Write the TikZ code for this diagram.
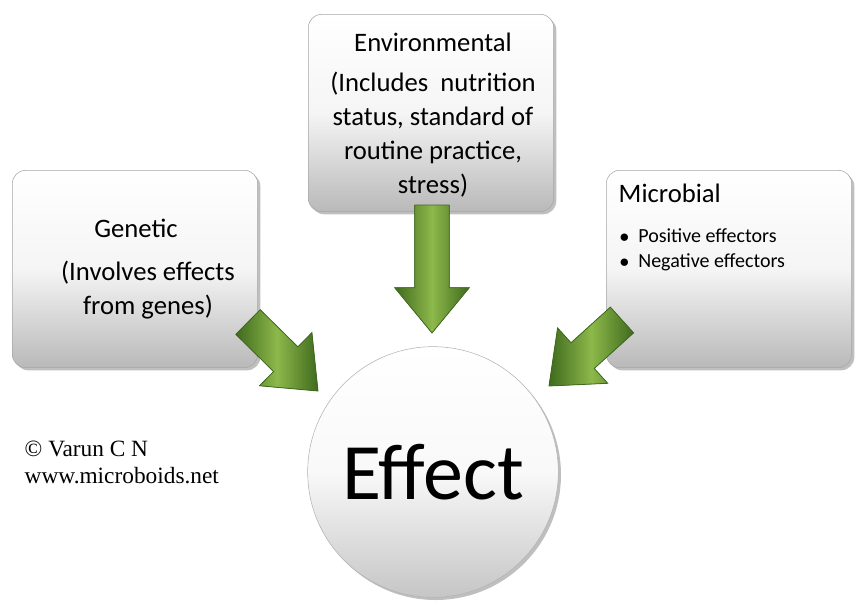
\documentclass[tikz,border=0pt]{standalone}
\usepackage{fontspec}
\setmainfont{Carlito}
\newfontfamily\serifx{Liberation Serif}
\usetikzlibrary{calc,shadows}
\definecolor{gd}{HTML}{3F6A1E}
\definecolor{gl}{HTML}{8DB84A}
\tikzset{
 bx/.style={draw=gray!70,rounded corners=10pt,top color=white,bottom color=gray!55,middle color=white!92!gray,minimum width=184pt,minimum height=148pt,drop shadow={opacity=0.5,shadow xshift=2pt,shadow yshift=-2pt}},
 txt/.style={font=\fontsize{20}{24}\selectfont,align=center},
 grn/.style={draw=gd,left color=gd,right color=gd,middle color=gl,line width=0.6pt}
}
\newcommand{\garrow}[2]{%
 \coordinate (H) at ($(#2)!34pt!(#1)$);
 \fill[grn] ($(#1)!13pt!90:(#2)$) -- ($(H)!13pt!-90:(#1)$) -- ($(H)!28pt!-90:(#1)$) -- (#2)
  -- ($(H)!28pt!90:(#1)$) -- ($(H)!13pt!90:(#1)$) -- ($(#1)!13pt!-90:(#2)$) -- cycle;}
\begin{document}
\begin{tikzpicture}[x=0.75pt,y=-0.75pt]
\useasboundingbox (0,0) rectangle (865,612);
\node[bx] (gen) at (135,269) {};
\node[bx] (env) at (431,113) {};
\node[bx] (mic) at (729,269) {};
\coordinate (ma) at (432,205); \coordinate (mb) at (432,333);
\garrow{ma}{mb}
\coordinate (la) at (248,322); \coordinate (lb) at (318,391);
\garrow{la}{lb}
\coordinate (ra) at (622,320); \coordinate (rb) at (549,386);
\garrow{ra}{rb}
\node[circle,draw=gray!60,minimum size=188pt,top color=white,bottom color=gray!45,middle color=white!95!gray,drop shadow={opacity=0.5,shadow xshift=2pt,shadow yshift=-2pt}] (eff) at (433,472) {};
\node[font=\fontsize{60}{62}\selectfont] (efft) at (433,472) {Effect};
\node[txt] (gt) at (136,228) {Genetic};
\node[txt,font=\fontsize{20}{25}\selectfont] (gd) at (148,290) {(Involves effects\\from genes)};
\node[txt] (et) at (433,42) {Environmental};
\node[txt,font=\fontsize{20}{25.5}\selectfont] (ed) at (433,135) {(Includes\ \ nutrition\\status, standard of\\routine practice,\\stress)};
\node[txt,anchor=west] (mt) at (614,193) {Microbial};
\node[anchor=north west,font=\fontsize{15}{18.5}\selectfont,align=left] (ml) at (615,224) {$\bullet$\ \ Positive effectors\\$\bullet$\ \ Negative effectors};
\node[anchor=north west,font=\serifx\fontsize{17.5}{20.5}\selectfont,align=left] (cp) at (20,436) {© Varun C N\\www.microboids.net};
\end{tikzpicture}
\end{document}
